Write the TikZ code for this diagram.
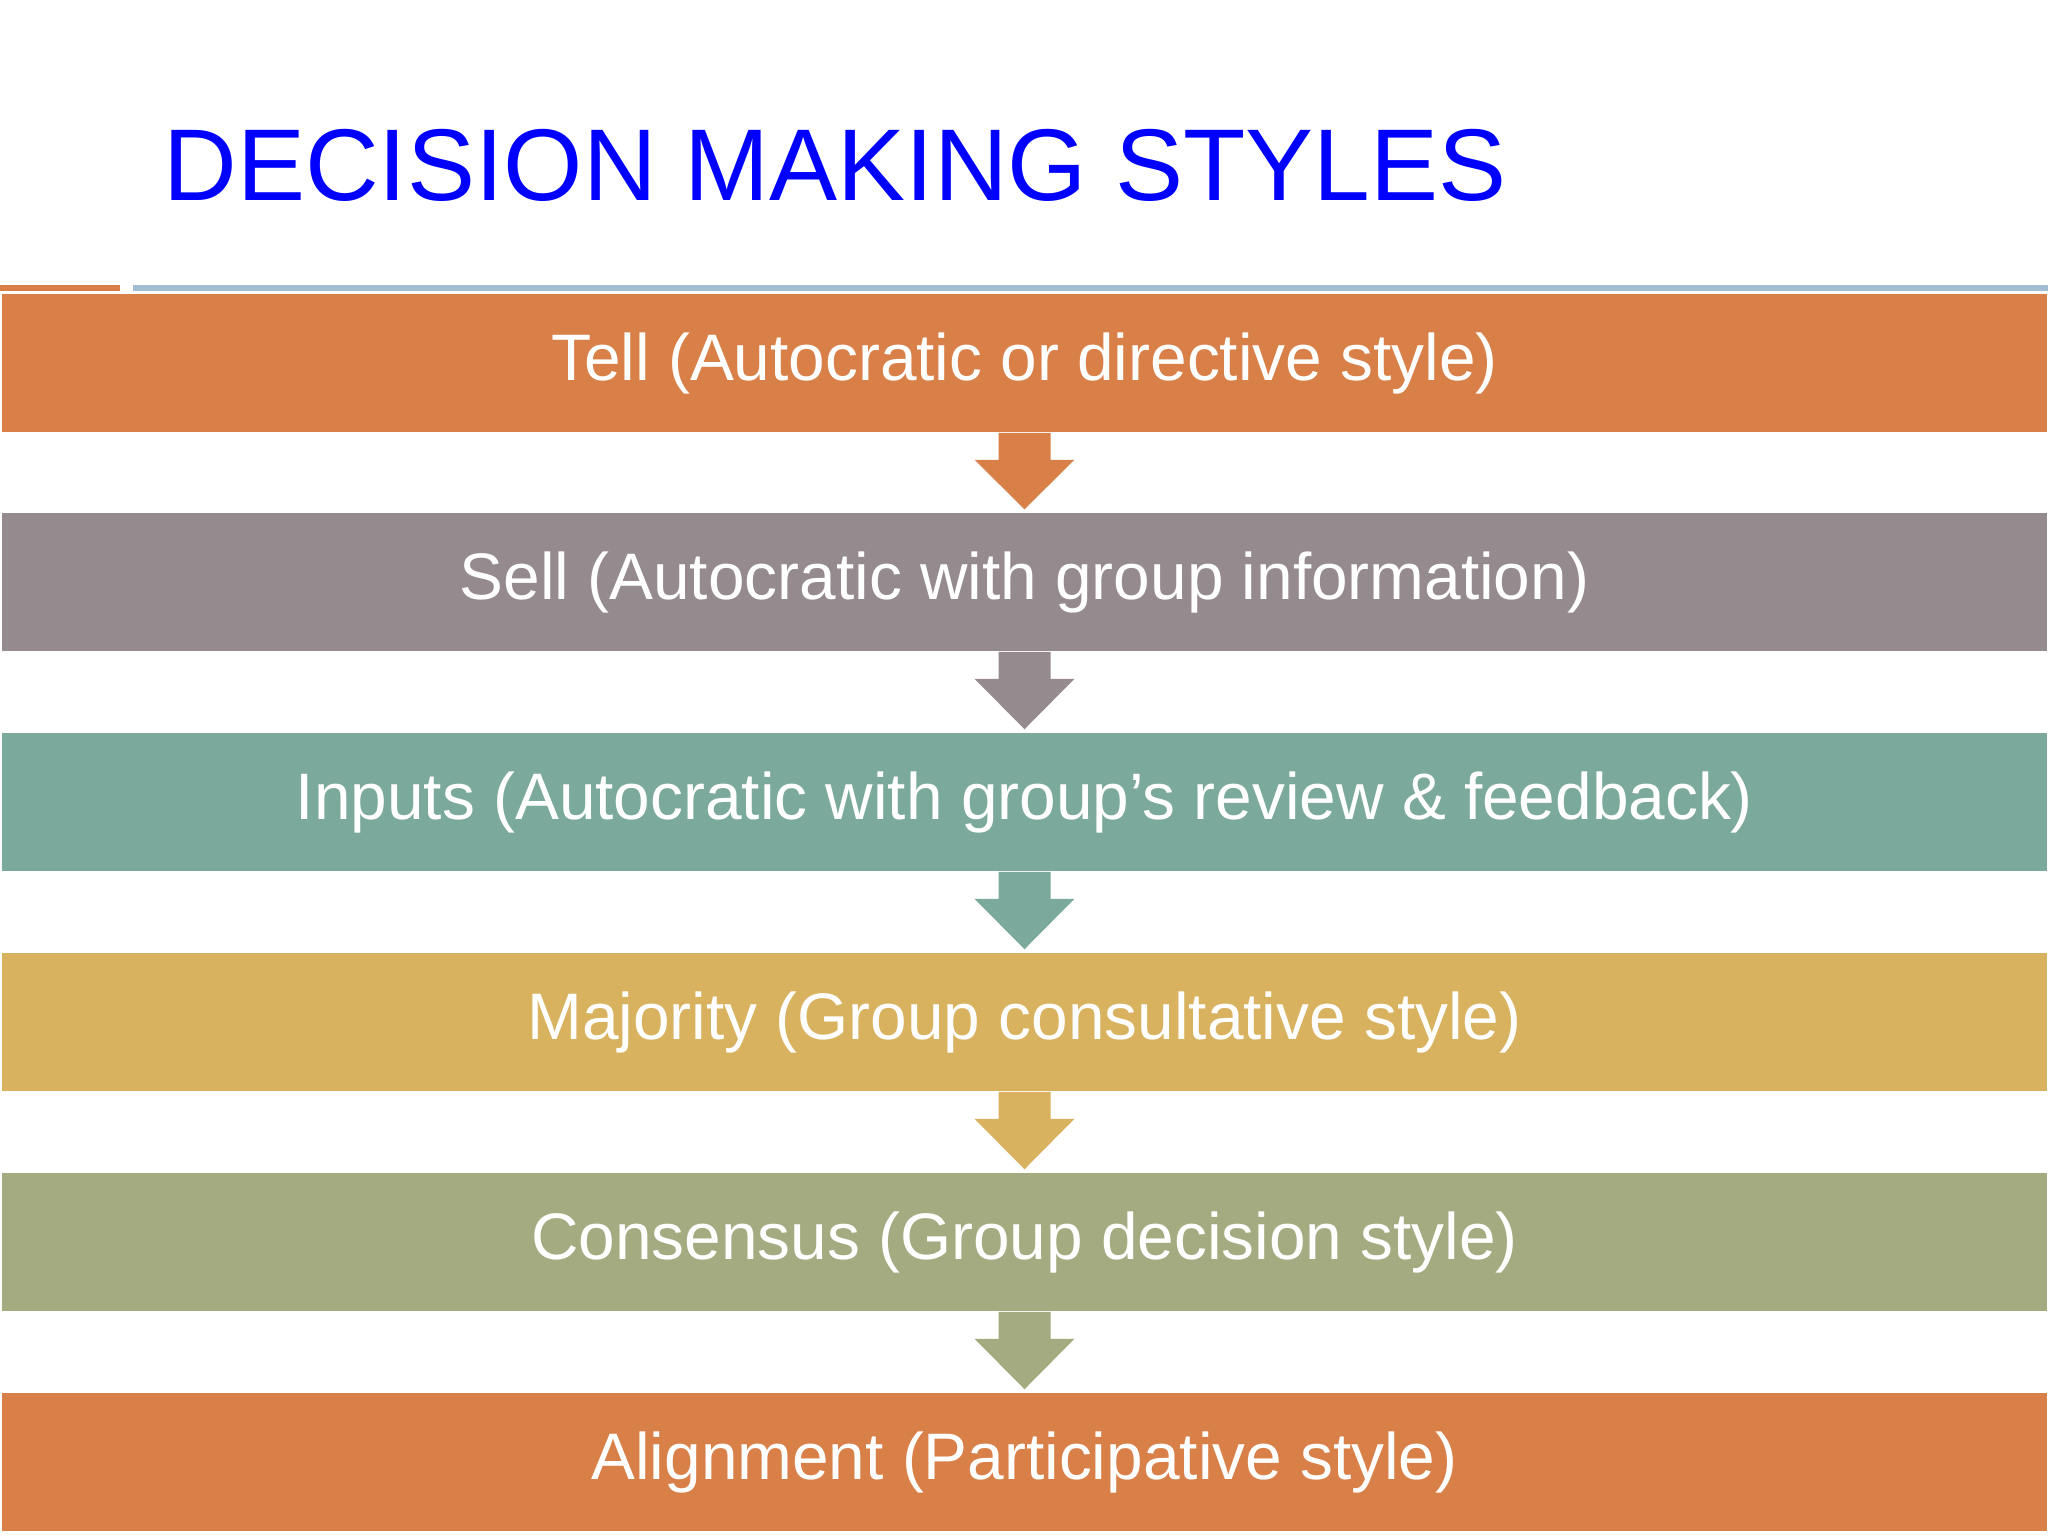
\documentclass[tikz,border=0pt]{standalone}
\usepackage{fontspec}
\setmainfont{Liberation Sans}
\usetikzlibrary{calc}
\definecolor{tellorange}{HTML}{D98048}
\definecolor{sellgray}{HTML}{958A8E}
\definecolor{inputteal}{HTML}{7BA99B}
\definecolor{majgold}{HTML}{D8B25E}
\definecolor{consolive}{HTML}{A5AB81}
\definecolor{rulecolor}{HTML}{A3BED3}
\tikzstyle{band} = [minimum width=20.43cm, minimum height=1.38cm, inner sep=0pt, text=white, font=\fontsize{18.7}{22}\selectfont]

\begin{document}
\begin{tikzpicture}[x=0.01cm, y=-0.01cm]
    \useasboundingbox (0,0) rectangle (2048,1536);
    \node (title) [anchor=base west, inner sep=0pt, text={rgb,255:red,0;green,0;blue,255}, font=\fontsize{29}{34}\selectfont] at (163,200) {DECISION MAKING STYLES};
    \draw [tellorange, line width=1.5pt] (0,288) -- (120,288);
    \draw [rulecolor, line width=1.5pt] (133,288) -- (2048,288);
    \node (tell) [band, fill=tellorange] at (1024.5,363) {Tell (Autocratic or directive style)};
    \node (sell) [band, fill=sellgray] at (1024.5,582) {Sell (Autocratic with group information)};
    \node (inputs) [band, fill=inputteal] at (1024.5,802) {Inputs (Autocratic with group’s review \& feedback)};
    \node (majority) [band, fill=majgold] at (1024.5,1022) {Majority (Group consultative style)};
    \node (consensus) [band, fill=consolive] at (1024.5,1242) {Consensus (Group decision style)};
    \node (alignment) [band, fill=tellorange] at (1024.5,1462) {Alignment (Participative style)};
    \foreach \a/\b/\c in {tell/sell/tellorange, sell/inputs/sellgray, inputs/majority/inputteal, majority/consensus/majgold, consensus/alignment/consolive}
        \fill [\c] ($(\a.south)+(-26,0)$) -- ++(0,27) -- ++(-24,0) -- ($(\b.north)+(0,-3)$)
            -- ($(\a.south)+(50,27)$) -- ++(-24,0) -- ++(0,-27) -- cycle;
\end{tikzpicture}
\end{document}
